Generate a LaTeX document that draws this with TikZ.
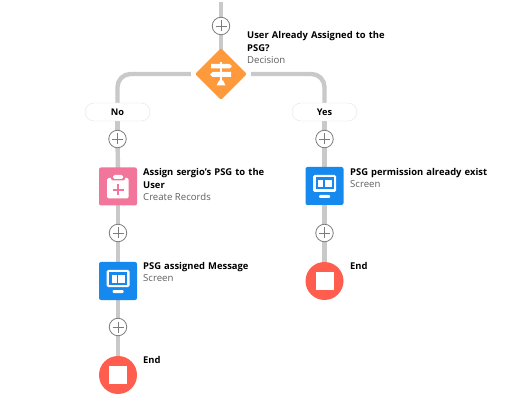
\documentclass[tikz,border=0pt]{standalone}
\usepackage{fontspec}
\setmainfont{Open Sans}
\usetikzlibrary{shapes.geometric}
\pgfdeclarelayer{wires}
\pgfsetlayers{wires,main}
\definecolor{wire}{HTML}{C9C9C9}
\definecolor{plusgrey}{HTML}{7C7C7C}
\definecolor{decor}{HTML}{FF9A3C}
\definecolor{pinkbox}{HTML}{F2769B}
\definecolor{bluebox}{HTML}{1589EE}
\definecolor{endred}{HTML}{FF5D4D}
\definecolor{subgrey}{HTML}{5E5E5E}
\definecolor{pillline}{HTML}{E4E4E4}
\tikzset{
  wireline/.style={draw=wire,line width=4.4pt},
  addbtn/.style={circle,draw=plusgrey,fill=white,line width=0.8pt,minimum size=17.5pt,inner sep=0pt,
    path picture={\draw[plusgrey,line width=0.8pt] ([xshift=-5.5pt]path picture bounding box.center)--([xshift=5.5pt]path picture bounding box.center);
    \draw[plusgrey,line width=0.8pt] ([yshift=-5.5pt]path picture bounding box.center)--([yshift=5.5pt]path picture bounding box.center);}},
  pill/.style={draw=pillline,fill=white,rounded corners=9pt,minimum width=65pt,minimum height=18pt,inner sep=0pt,font=\fontsize{9.2}{11}\selectfont},
  elembox/.style={rounded corners=2pt,minimum size=38pt,inner sep=0pt},
  endcirc/.style={circle,fill=endred,minimum size=38pt,inner sep=0pt},
  title/.style={anchor=north west,align=left,inner sep=0pt,text width=#1,font=\fontsize{9.4}{13}\selectfont},
  title/.default=140pt,
  sub/.style={text=subgrey,font=\fontsize{9.6}{13}\selectfont,anchor=north west,inner sep=0pt},
}
\begin{document}
\begin{tikzpicture}[x=1pt,y=-1pt]
\useasboundingbox (0,0) rectangle (512,401);
% nodes
\coordinate (top) at (221,2);
\coordinate (cl) at (117.5,74);
\coordinate (cr2) at (324.5,74);
\node[addbtn] (p0) at (221,26) {};
\node[diamond,aspect=1,fill=decor,rounded corners=2pt,minimum size=52pt,inner sep=0pt] (dec) at (221,74) {};
\node[pill] (no) at (117.5,112) {\textbf{No}};
\node[pill] (yes) at (324.5,112) {\textbf{Yes}};
\node[addbtn] (p1) at (117.5,139) {};
\node[addbtn] (p2) at (324.5,139) {};
\node[elembox,fill=pinkbox] (cr) at (118,186.5) {};
\node[elembox,fill=bluebox] (s1) at (118,281) {};
\node[elembox,fill=bluebox] (s2) at (324.5,186) {};
\node[addbtn] (p3) at (118,233) {};
\node[addbtn] (p4) at (118,327) {};
\node[addbtn] (p5) at (324.5,233) {};
\node[endcirc] (e1) at (118,375) {};
\node[endcirc] (e2) at (324.5,281) {};
% connectors
\begin{pgfonlayer}{wires}
\fill[white] (0,0) rectangle (512,401);
\draw[wireline] (top) -- (p0);
\draw[wireline] (p0) -- ([yshift=-4pt]dec.north);
\draw[wireline,rounded corners=13pt] ([xshift=-4pt]dec.west) -- (cl) -- (no.north);
\draw[wireline,rounded corners=13pt] ([xshift=4pt]dec.east) -- (cr2) -- (yes.north);
\draw[wireline] (no) -- (p1);
\draw[wireline] (yes) -- (p2);
\draw[wireline] (p1) -- ([yshift=-4pt]cr.north);
\draw[wireline] (p2) -- ([yshift=-4pt]s2.north);
\draw[wireline] ([yshift=3pt]cr.south) -- (p3);
\draw[wireline] (p3) -- ([yshift=-3pt]s1.north);
\draw[wireline] ([yshift=3pt]s1.south) -- (p4);
\draw[wireline] (p4) -- ([yshift=-4pt]e1.north);
\draw[wireline] ([yshift=3pt]s2.south) -- (p5);
\draw[wireline] (p5) -- ([yshift=-3pt]e2.north);
\end{pgfonlayer}
% decision icon
\fill[white] (211,64) -- (229.5,64) -- (232,66.2) -- (229.5,68.5) -- (211,68.5) -- cycle;
\fill[white] (212.5,72) -- (231,72) -- (231,77) -- (212.5,77) -- (210,74.5) -- cycle;
\fill[white] (220,62) rectangle (222,82);
\fill[white] (216.5,85.5) -- (219,80.5) -- (223,80.5) -- (225.5,85.5) -- cycle;
% create-records icon
\fill[white,rounded corners=1.5pt] (107,178) rectangle (128.5,198.5);
\fill[pinkbox,rounded corners=1.5pt] (111,173.5) rectangle (125,180.5);
\fill[white,rounded corners=1.5pt] (113,175) rectangle (123,179);
\draw[pinkbox,line width=1.1pt] (112.5,190) -- (123.5,190) (118,184.5) -- (118,195.5);
% screen icons
\foreach \n in {s1,s2}{
  \begin{scope}[shift={(\n)}]
    \fill[white,rounded corners=1.5pt] (-11.5,-11) rectangle (11.5,6);
    \fill[bluebox] (-9,-8.5) rectangle (9,3.5);
    \fill[white] (-6.5,-6) rectangle (-1.5,1.5);
    \fill[white] (0,-6) rectangle (7,1.5);
    \fill[white,rounded corners=1pt] (-5.5,9) rectangle (5.5,12);
  \end{scope}
}
% end icons
\foreach \n in {e1,e2}{\fill[white] ([xshift=-9pt,yshift=-9pt]\n.center) rectangle ([xshift=9pt,yshift=9pt]\n.center);}
% labels
\node[title=150pt] (t0) at (247,31) {\textbf{User Already Assigned to the\\PSG?}};
\node[sub] (t0s) at (247,56.5) {Decision};
\node[title=135pt] (t1) at (143,168) {\textbf{Assign sergio's PSG to the\\User}};
\node[sub] (t1s) at (143,193.5) {Create Records};
\node[title=150pt] (t2) at (143,262) {\textbf{PSG assigned Message}};
\node[sub] (t2s) at (143,274.5) {Screen};
\node[title=150pt] (t3) at (143,356) {\textbf{End}};
\node[title=150pt] (t4) at (350,168) {\textbf{PSG permission already exist}};
\node[sub] (t4s) at (350,180.5) {Screen};
\node[title=100pt] (t5) at (350,262) {\textbf{End}};
\end{tikzpicture}
\end{document}
